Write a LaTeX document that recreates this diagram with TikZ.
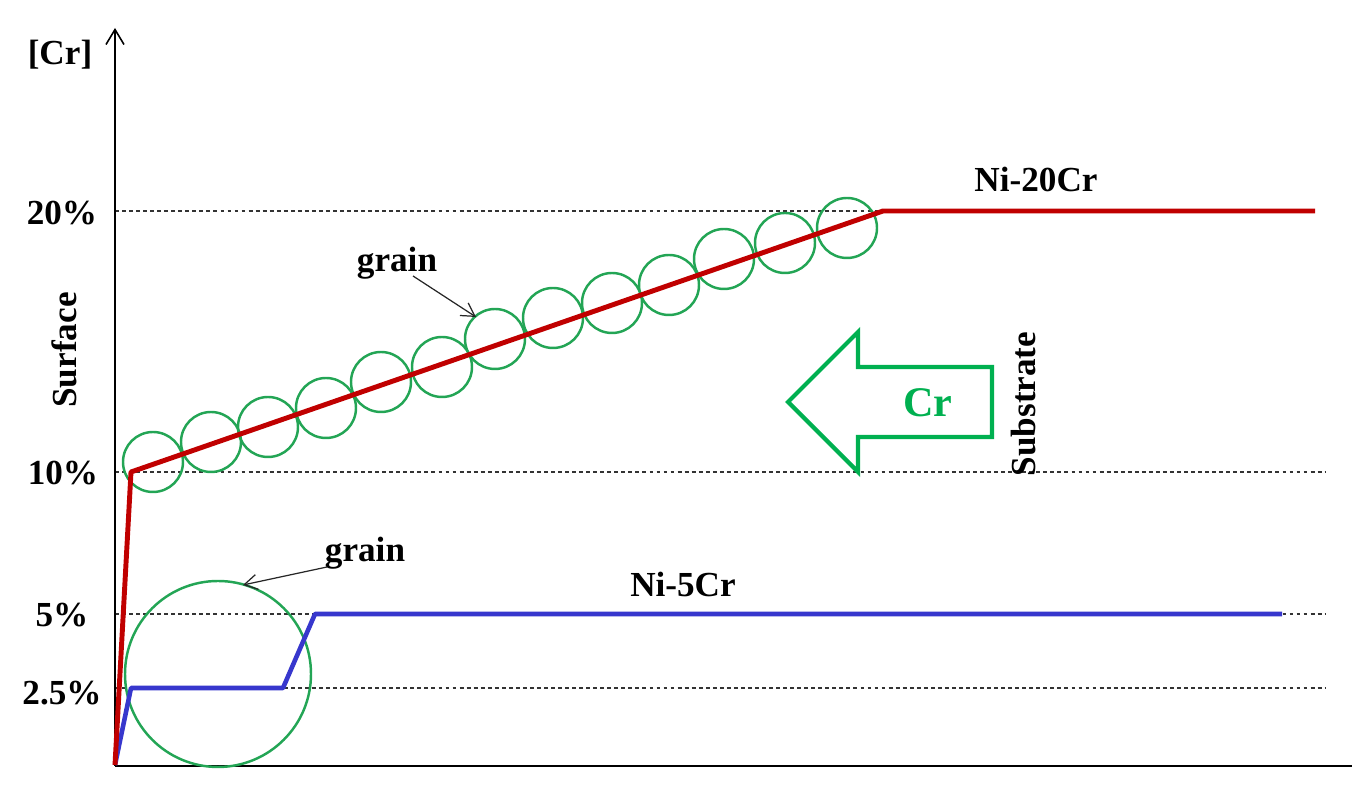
\documentclass[tikz,border=0pt]{standalone}
\usepackage{fontspec}
\setmainfont{Liberation Serif}
\usetikzlibrary{arrows.meta}

\definecolor{nired}{RGB}{192,0,0}
\definecolor{niblue}{RGB}{55,55,205}
\definecolor{grgreen}{RGB}{35,165,85}
\definecolor{crgreen}{RGB}{0,176,80}

\tikzset{
  lbl/.style={inner sep=1pt, font=\bfseries\fontsize{10}{12}\selectfont},
  level/.style={dash pattern=on 1.1pt off 0.9pt, line width=0.3pt, black!80},
  grain/.style={grgreen, line width=0.7pt},
  pointer/.style={-{Straight Barb[length=0.13cm,width=0.15cm]}, line width=0.35pt, black!85}
}

\begin{document}
\begin{tikzpicture}[x=0.01cm, y=-0.01cm]
    \useasboundingbox (0,0) rectangle (1354,786);

    % levels
    \draw[level] (115,211) -- (1313,211);
    \draw[level] (115,472) -- (1325,472);
    \draw[level] (115,614) -- (1325,614);
    \draw[level] (115,688) -- (1325,688);

    % axes
    \draw[line width=0.45pt, -{Straight Barb[length=0.15cm,width=0.18cm]}] (115,766) -- (115,28);
    \draw[line width=0.45pt] (115,766) -- (1352,766);

    \node[lbl, anchor=base] (cr) at (60,65) {[Cr]};
    \node[lbl, anchor=base] (p20) at (62,225) {20\%};
    \node[lbl, anchor=base] (p10) at (63,485) {10\%};
    \node[lbl, anchor=base] (p5) at (62,627) {5\%};
    \node[lbl, anchor=base] (p25) at (62,705) {2.5\%};
    \node[lbl, rotate=90] (surf) at (64,350) {Surface};
    \node[lbl, rotate=90] (subs) at (1024,404) {Substrate};

    % grains
    \foreach \x/\y in {153/462, 211/442, 268/427, 326/408, 381/382, 442/367, 495/339,
                       553/318, 612/303, 669/285, 724/259, 785/243, 847/228}
        \draw[grain] (\x,\y) circle (30);
    \draw[grain] (218,674) circle (93);

    % profiles
    \draw[niblue, line width=1.3pt, line join=round] (115,765) -- (131,688) -- (283,688) -- (315,614) -- (1282,614);
    \draw[nired, line width=1.4pt, line join=round] (115,765) -- (131,472) -- (883,211) -- (1315,211);

    \node[lbl, anchor=base] (ni20) at (1036,192) {Ni-20Cr};
    \node[lbl, anchor=base] (ni5) at (683,597) {Ni-5Cr};

    % pointers
    \node[lbl, anchor=base] (grainA) at (397,272) {grain};
    \coordinate (tipA) at (476,317);
    \draw[pointer] ([xshift=0.16cm,yshift=-0.04cm]grainA.base) -- (tipA);

    \node[lbl, anchor=base] (grainB) at (365,562) {grain};
    \coordinate (tipB) at (243,585);
    \draw[pointer] ([xshift=-0.38cm,yshift=-0.05cm]grainB.base) -- (tipB);

    % diffusion arrow
    \draw[crgreen, line width=1.2pt, line join=miter] (788,402) -- (858,332) -- (858,367) -- (992,367) -- (992,437) -- (858,437) -- (858,472) -- cycle;
    \node[lbl, crgreen, anchor=base, font=\bfseries\fontsize{12}{14}\selectfont] (crflux) at (928,417) {Cr};
\end{tikzpicture}
\end{document}
